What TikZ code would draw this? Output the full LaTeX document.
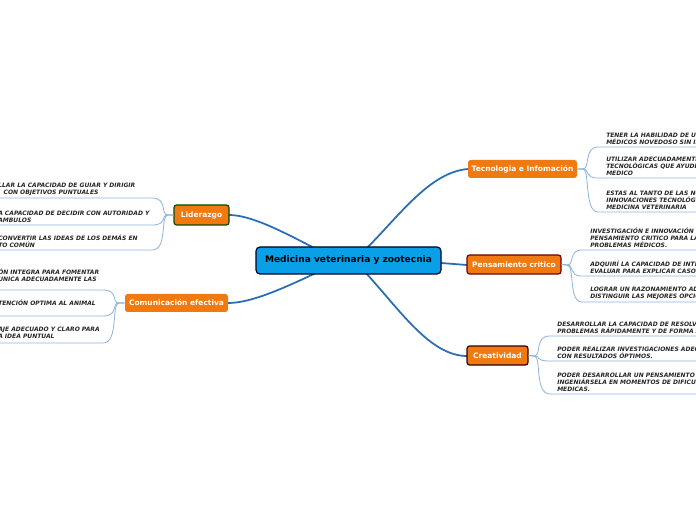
\documentclass[tikz,border=0pt]{standalone}
\usepackage{fontspec}
\setmainfont{DejaVu Sans}
\newfontfamily\subf{DejaVu Sans Bold Oblique}
\begin{document}
\begin{tikzpicture}[x=0.75pt,y=-0.75pt,
  topic/.style={rounded corners=2pt,fill=orange!85!red,text=white,font=\bfseries\fontsize{5.6}{6}\selectfont,inner sep=0pt,line width=0.9pt},
  sub/.style={font=\subf\fontsize{4.5}{5.3}\selectfont,align=left,inner sep=0pt,text=black!85},
  main/.style={line width=1.3pt,draw=mainblue},
  br/.style={draw=brblue,line width=0.6pt}]
\definecolor{org}{RGB}{240,122,16}
\definecolor{mainblue}{RGB}{40,108,180}
\definecolor{brblue}{RGB}{140,180,222}
\definecolor{cfill}{RGB}{10,160,232}
\useasboundingbox (0,0) rectangle (696,520);
\clip (0,0) rectangle (696,520);
\fill[white] (0,0) rectangle (696,520);
% main connectors
\draw[main] (365,250) .. controls (400,215) and (430,172) .. (468,169);
\draw[main] (441,263) -- (467,265);
\draw[main] (365,272) .. controls (400,310) and (430,356) .. (467,356);
\draw[main] (318,250) .. controls (280,230) and (250,215) .. (229,215);
\draw[main] (318,272) .. controls (280,290) and (250,303) .. (228,303);
% center
\node[draw=black!85!blue,fill=cfill,rounded corners=3pt,minimum width=185*0.75pt,minimum height=27*0.75pt,line width=0.9pt,font=\bfseries\fontsize{6.8}{8}\selectfont] (c) at (348.5,260.5) {Medicina veterinaria y zootecnia};
% topics
\node[topic,fill=org,minimum width=109*0.75pt,minimum height=18*0.75pt] (t) at (522.5,169) {Tecnologia e Infomación};
\node[topic,fill=org,draw=red!45!black,minimum width=94*0.75pt,minimum height=19*0.75pt] (p) at (514,264.5) {Pensamiento critico};
\node[topic,fill=org,draw=black!80!red,minimum width=61*0.75pt,minimum height=19*0.75pt] (cr) at (497.5,355.5) {Creatividad};
\node[topic,fill=org,draw=green!30!black,minimum width=55*0.75pt,minimum height=20*0.75pt] (l) at (201.5,215) {Liderazgo};
\node[topic,fill=org,minimum width=103*0.75pt,minimum height=18*0.75pt] (cm) at (176.5,303) {Comunicación efectiva};
% right branches
\foreach \uy in {147,178,212} \draw[br] (t.east) -- (583,169) .. controls (590,169) and (584,\uy) .. (598,\uy) -- (700,\uy);
\foreach \uy in {250,276,302} \draw[br] (p.east) -- (567,265) .. controls (575,265) and (568,\uy) .. (582,\uy) -- (700,\uy);
\foreach \uy in {336,361,394} \draw[br] (cr.east) -- (534,356) .. controls (542,356) and (534,\uy) .. (550,\uy) -- (700,\uy);
% left branches
\foreach \uy in {198,225,250} \draw[br] (l.west) -- (168,215) .. controls (160,215) and (168,\uy) .. (152,\uy) -- (-5,\uy);
\foreach \uy in {290,316,343} \draw[br] (cm.west) -- (119,303) .. controls (111,303) and (119,\uy) .. (103,\uy) -- (-5,\uy);
% right texts
\node[sub,anchor=south west] (t1) at (606,145) {TENER LA HABILIDAD DE UTILIZAR EQUIPOS\\MÉDICOS NOVEDOSO SIN INCONVENIENTES};
\node[sub,anchor=south west] (t2) at (606,176) {UTILIZAR ADECUADAMENTE LAS HERRAMIENTAS\\TECNOLÓGICAS QUE AYUDEN AL DIAGNÓSTICO\\MEDICO};
\node[sub,anchor=south west] (t3) at (606,210) {ESTAS AL TANTO DE LAS NOTICIAS E\\INNOVACIONES TECNOLÓGICAS DE LA\\MEDICINA VETERINARIA};
\node[sub,anchor=south west] (p1) at (590,248) {INVESTIGACIÓN E INNOVACIÓN , DESARROLLAR UN\\PENSAMIENTO CRITICO PARA LA RESOLUCIÓN DE\\PROBLEMAS MÉDICOS.};
\node[sub,anchor=south west] (p2) at (590,274) {ADQUIRÍ LA CAPACIDAD DE INTERPRETAR Y\\EVALUAR PARA EXPLICAR CASOS MÉDICOS};
\node[sub,anchor=south west] (p3) at (590,300) {LOGRAR UN RAZONAMIENTO ADECUADO PARA\\DISTINGUIR LAS MEJORES OPCIONES};
\node[sub,anchor=south west] (c1) at (557,334) {DESARROLLAR LA CAPACIDAD DE RESOLVER\\PROBLEMAS RÁPIDAMENTE Y DE FORMA ASERTIVA};
\node[sub,anchor=south west] (c2) at (557,359) {PODER REALIZAR INVESTIGACIONES ADECUADAS\\CON RESULTADOS ÓPTIMOS.};
\node[sub,anchor=south west] (c3) at (557,392) {PODER DESARROLLAR UN PENSAMIENTO ÁGIL E\\INGENIÁRSELA EN MOMENTOS DE DIFICULTADES\\MEDICAS.};
% left texts (visible parts)
\node[sub,anchor=south west] (l1) at (-2,196) {LLAR LA CAPACIDAD DE GUIAR Y DIRIGIR\\\hspace*{4pt}CON OBJETIVOS PUNTUALES};
\node[sub,anchor=south west] (l2) at (-2,223) {A CAPACIDAD DE DECIDIR CON AUTORIDAD Y\\AMBULOS};
\node[sub,anchor=south west] (l3) at (-2,248) {CONVERTIR LAS IDEAS DE LOS DEMÁS EN\\TO COMÚN};
\node[sub,anchor=south west] (m1) at (-2,282) {ÓN INTEGRA PARA FOMENTAR\\UNICA ADECUADAMENTE LAS};
\node[sub,anchor=south west] (m2) at (-2,306) {TENCIÓN OPTIMA AL ANIMAL};
\node[sub,anchor=south west] (m3) at (-2,339) {AJE ADECUADO Y CLARO PARA\\A IDEA PUNTUAL};
\end{tikzpicture}
\end{document}
